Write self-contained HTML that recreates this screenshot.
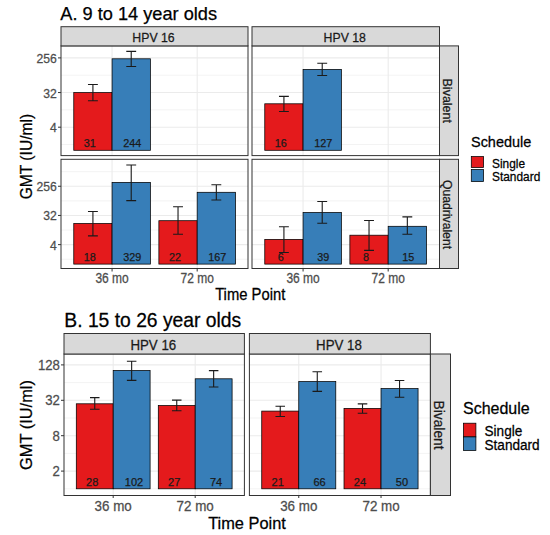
<!DOCTYPE html>
<html><head><meta charset="utf-8"><style>
html,body{margin:0;padding:0;background:#fff;width:550px;height:535px;overflow:hidden}
svg{display:block}
text{font-family:"Liberation Sans",sans-serif}
</style></head><body>
<svg width="550" height="535" viewBox="0 0 550 535">
<rect width="550" height="535" fill="#fff"/>
<text transform="translate(60.30,19.60)" font-size="18.2" fill="#000" stroke="#000" stroke-width="0.25">A. 9 to 14 year olds</text>
<rect x="61" y="45.9" width="187" height="109.69999999999999" fill="#fff"/>
<line x1="61" x2="248" y1="144.53" y2="144.53" stroke="#EBEBEB" stroke-width="0.6"/>
<line x1="61" x2="248" y1="109.88" y2="109.88" stroke="#EBEBEB" stroke-width="0.6"/>
<line x1="61" x2="248" y1="75.23" y2="75.23" stroke="#EBEBEB" stroke-width="0.6"/>
<line x1="61" x2="248" y1="127.20" y2="127.20" stroke="#EBEBEB" stroke-width="1.1"/>
<line x1="61" x2="248" y1="92.55" y2="92.55" stroke="#EBEBEB" stroke-width="1.1"/>
<line x1="61" x2="248" y1="57.90" y2="57.90" stroke="#EBEBEB" stroke-width="1.1"/>
<line x1="112.07" x2="112.07" y1="45.9" y2="155.6" stroke="#EBEBEB" stroke-width="1.1"/>
<line x1="197.18" x2="197.18" y1="45.9" y2="155.6" stroke="#EBEBEB" stroke-width="1.1"/>
<rect x="61" y="159.3" width="187" height="109.19999999999999" fill="#fff"/>
<line x1="61" x2="248" y1="259.24" y2="259.24" stroke="#EBEBEB" stroke-width="0.6"/>
<line x1="61" x2="248" y1="230.05" y2="230.05" stroke="#EBEBEB" stroke-width="0.6"/>
<line x1="61" x2="248" y1="200.86" y2="200.86" stroke="#EBEBEB" stroke-width="0.6"/>
<line x1="61" x2="248" y1="171.67" y2="171.67" stroke="#EBEBEB" stroke-width="0.6"/>
<line x1="61" x2="248" y1="244.64" y2="244.64" stroke="#EBEBEB" stroke-width="1.1"/>
<line x1="61" x2="248" y1="215.45" y2="215.45" stroke="#EBEBEB" stroke-width="1.1"/>
<line x1="61" x2="248" y1="186.26" y2="186.26" stroke="#EBEBEB" stroke-width="1.1"/>
<line x1="112.07" x2="112.07" y1="159.3" y2="268.5" stroke="#EBEBEB" stroke-width="1.1"/>
<line x1="197.18" x2="197.18" y1="159.3" y2="268.5" stroke="#EBEBEB" stroke-width="1.1"/>
<rect x="252" y="45.9" width="187.5" height="109.69999999999999" fill="#fff"/>
<line x1="252" x2="439.5" y1="144.53" y2="144.53" stroke="#EBEBEB" stroke-width="0.6"/>
<line x1="252" x2="439.5" y1="109.88" y2="109.88" stroke="#EBEBEB" stroke-width="0.6"/>
<line x1="252" x2="439.5" y1="75.23" y2="75.23" stroke="#EBEBEB" stroke-width="0.6"/>
<line x1="252" x2="439.5" y1="127.20" y2="127.20" stroke="#EBEBEB" stroke-width="1.1"/>
<line x1="252" x2="439.5" y1="92.55" y2="92.55" stroke="#EBEBEB" stroke-width="1.1"/>
<line x1="252" x2="439.5" y1="57.90" y2="57.90" stroke="#EBEBEB" stroke-width="1.1"/>
<line x1="303.07" x2="303.07" y1="45.9" y2="155.6" stroke="#EBEBEB" stroke-width="1.1"/>
<line x1="388.18" x2="388.18" y1="45.9" y2="155.6" stroke="#EBEBEB" stroke-width="1.1"/>
<rect x="252" y="159.3" width="187.5" height="109.19999999999999" fill="#fff"/>
<line x1="252" x2="439.5" y1="259.24" y2="259.24" stroke="#EBEBEB" stroke-width="0.6"/>
<line x1="252" x2="439.5" y1="230.05" y2="230.05" stroke="#EBEBEB" stroke-width="0.6"/>
<line x1="252" x2="439.5" y1="200.86" y2="200.86" stroke="#EBEBEB" stroke-width="0.6"/>
<line x1="252" x2="439.5" y1="171.67" y2="171.67" stroke="#EBEBEB" stroke-width="0.6"/>
<line x1="252" x2="439.5" y1="244.64" y2="244.64" stroke="#EBEBEB" stroke-width="1.1"/>
<line x1="252" x2="439.5" y1="215.45" y2="215.45" stroke="#EBEBEB" stroke-width="1.1"/>
<line x1="252" x2="439.5" y1="186.26" y2="186.26" stroke="#EBEBEB" stroke-width="1.1"/>
<line x1="303.07" x2="303.07" y1="159.3" y2="268.5" stroke="#EBEBEB" stroke-width="1.1"/>
<line x1="388.18" x2="388.18" y1="159.3" y2="268.5" stroke="#EBEBEB" stroke-width="1.1"/>
<rect x="73.77" y="92.60" width="38.30" height="57.70" fill="#E41A1C" stroke="#000" stroke-width="0.75"/>
<rect x="112.07" y="58.80" width="38.30" height="91.50" fill="#377EB8" stroke="#000" stroke-width="0.75"/>
<path d="M87.98 84.50H97.85M92.92 84.50V100.70M87.98 100.70H97.85" stroke="#1A1A1A" stroke-width="1.1" fill="none"/>
<path d="M126.28 51.40H136.16M131.22 51.40V66.50M126.28 66.50H136.16" stroke="#1A1A1A" stroke-width="1.1" fill="none"/>
<text transform="translate(89.79,147.20)" font-size="10.8" fill="#1A1A1A" stroke="#1A1A1A" stroke-width="0.25" text-anchor="middle">31</text>
<text transform="translate(132.15,147.20)" font-size="10.8" fill="#1A1A1A" stroke="#1A1A1A" stroke-width="0.25" text-anchor="middle">244</text>
<rect x="264.77" y="103.80" width="38.30" height="46.50" fill="#E41A1C" stroke="#000" stroke-width="0.75"/>
<rect x="303.07" y="69.40" width="38.30" height="80.90" fill="#377EB8" stroke="#000" stroke-width="0.75"/>
<path d="M278.98 96.40H288.85M283.92 96.40V111.50M278.98 111.50H288.85" stroke="#1A1A1A" stroke-width="1.1" fill="none"/>
<path d="M317.28 63.20H327.16M322.22 63.20V75.50M317.28 75.50H327.16" stroke="#1A1A1A" stroke-width="1.1" fill="none"/>
<text transform="translate(280.79,147.20)" font-size="10.8" fill="#1A1A1A" stroke="#1A1A1A" stroke-width="0.25" text-anchor="middle">16</text>
<text transform="translate(323.15,147.20)" font-size="10.8" fill="#1A1A1A" stroke="#1A1A1A" stroke-width="0.25" text-anchor="middle">127</text>
<rect x="73.77" y="223.50" width="38.30" height="40.60" fill="#E41A1C" stroke="#000" stroke-width="0.75"/>
<rect x="112.07" y="182.40" width="38.30" height="81.70" fill="#377EB8" stroke="#000" stroke-width="0.75"/>
<path d="M87.98 211.50H97.85M92.92 211.50V235.90M87.98 235.90H97.85" stroke="#1A1A1A" stroke-width="1.1" fill="none"/>
<path d="M126.28 165.00H136.16M131.22 165.00V200.60M126.28 200.60H136.16" stroke="#1A1A1A" stroke-width="1.1" fill="none"/>
<text transform="translate(89.79,260.80)" font-size="10.8" fill="#1A1A1A" stroke="#1A1A1A" stroke-width="0.25" text-anchor="middle">18</text>
<text transform="translate(132.15,260.80)" font-size="10.8" fill="#1A1A1A" stroke="#1A1A1A" stroke-width="0.25" text-anchor="middle">329</text>
<rect x="158.88" y="220.70" width="38.30" height="43.40" fill="#E41A1C" stroke="#000" stroke-width="0.75"/>
<rect x="197.18" y="192.30" width="38.30" height="71.80" fill="#377EB8" stroke="#000" stroke-width="0.75"/>
<path d="M173.09 206.80H182.97M178.03 206.80V234.30M173.09 234.30H182.97" stroke="#1A1A1A" stroke-width="1.1" fill="none"/>
<path d="M211.40 184.70H221.27M216.33 184.70V200.00M211.40 200.00H221.27" stroke="#1A1A1A" stroke-width="1.1" fill="none"/>
<text transform="translate(174.90,260.80)" font-size="10.8" fill="#1A1A1A" stroke="#1A1A1A" stroke-width="0.25" text-anchor="middle">22</text>
<text transform="translate(217.26,260.80)" font-size="10.8" fill="#1A1A1A" stroke="#1A1A1A" stroke-width="0.25" text-anchor="middle">167</text>
<rect x="264.77" y="239.40" width="38.30" height="24.70" fill="#E41A1C" stroke="#000" stroke-width="0.75"/>
<rect x="303.07" y="212.50" width="38.30" height="51.60" fill="#377EB8" stroke="#000" stroke-width="0.75"/>
<path d="M278.98 226.80H288.85M283.92 226.80V252.50M278.98 252.50H288.85" stroke="#1A1A1A" stroke-width="1.1" fill="none"/>
<path d="M317.28 201.50H327.16M322.22 201.50V223.20M317.28 223.20H327.16" stroke="#1A1A1A" stroke-width="1.1" fill="none"/>
<text transform="translate(280.79,260.80)" font-size="10.8" fill="#1A1A1A" stroke="#1A1A1A" stroke-width="0.25" text-anchor="middle">6</text>
<text transform="translate(323.15,260.80)" font-size="10.8" fill="#1A1A1A" stroke="#1A1A1A" stroke-width="0.25" text-anchor="middle">39</text>
<rect x="349.88" y="235.20" width="38.30" height="28.90" fill="#E41A1C" stroke="#000" stroke-width="0.75"/>
<rect x="388.18" y="226.30" width="38.30" height="37.80" fill="#377EB8" stroke="#000" stroke-width="0.75"/>
<path d="M364.09 220.50H373.97M369.03 220.50V250.40M364.09 250.40H373.97" stroke="#1A1A1A" stroke-width="1.1" fill="none"/>
<path d="M402.40 216.90H412.27M407.33 216.90V234.20M402.40 234.20H412.27" stroke="#1A1A1A" stroke-width="1.1" fill="none"/>
<text transform="translate(365.90,260.80)" font-size="10.8" fill="#1A1A1A" stroke="#1A1A1A" stroke-width="0.25" text-anchor="middle">8</text>
<text transform="translate(408.26,260.80)" font-size="10.8" fill="#1A1A1A" stroke="#1A1A1A" stroke-width="0.25" text-anchor="middle">15</text>
<rect x="61" y="45.9" width="187" height="109.69999999999999" fill="none" stroke="#333333" stroke-width="1.0"/>
<rect x="61" y="159.3" width="187" height="109.19999999999999" fill="none" stroke="#333333" stroke-width="1.0"/>
<rect x="61" y="26.7" width="187" height="19.2" fill="#D9D9D9" stroke="#333333" stroke-width="1.0"/>
<text transform="translate(153.50,41.60) scale(1,1.05)" font-size="12.3" fill="#1A1A1A" stroke="#1A1A1A" stroke-width="0.25" text-anchor="middle">HPV 16</text>
<rect x="252" y="45.9" width="187.5" height="109.69999999999999" fill="none" stroke="#333333" stroke-width="1.0"/>
<rect x="252" y="159.3" width="187.5" height="109.19999999999999" fill="none" stroke="#333333" stroke-width="1.0"/>
<rect x="252" y="26.7" width="187.5" height="19.2" fill="#D9D9D9" stroke="#333333" stroke-width="1.0"/>
<text transform="translate(344.75,41.60) scale(1,1.05)" font-size="12.3" fill="#1A1A1A" stroke="#1A1A1A" stroke-width="0.25" text-anchor="middle">HPV 18</text>
<rect x="439.5" y="45.9" width="19.0" height="109.69999999999999" fill="#D9D9D9" stroke="#333333" stroke-width="1.0"/>
<rect x="439.5" y="159.3" width="19.0" height="109.19999999999999" fill="#D9D9D9" stroke="#333333" stroke-width="1.0"/>
<text transform="translate(443.20,100.75) rotate(90) scale(1,1.05)" font-size="12.5" fill="#1A1A1A" stroke="#1A1A1A" stroke-width="0.25" text-anchor="middle">Bivalent</text>
<text transform="translate(443.20,214.50) rotate(90) scale(1,1.05)" font-size="12.2" fill="#1A1A1A" stroke="#1A1A1A" stroke-width="0.25" text-anchor="middle">Quadrivalent</text>
<line x1="58" x2="61" y1="127.20" y2="127.20" stroke="#333333" stroke-width="1.0"/>
<text transform="translate(56.80,132.20) scale(1,1.1)" font-size="12.2" fill="#4D4D4D" stroke="#4D4D4D" stroke-width="0.25" text-anchor="end">4</text>
<line x1="58" x2="61" y1="92.55" y2="92.55" stroke="#333333" stroke-width="1.0"/>
<text transform="translate(56.80,97.55) scale(1,1.1)" font-size="12.2" fill="#4D4D4D" stroke="#4D4D4D" stroke-width="0.25" text-anchor="end">32</text>
<line x1="58" x2="61" y1="57.90" y2="57.90" stroke="#333333" stroke-width="1.0"/>
<text transform="translate(56.80,62.90) scale(1,1.1)" font-size="12.2" fill="#4D4D4D" stroke="#4D4D4D" stroke-width="0.25" text-anchor="end">256</text>
<line x1="58" x2="61" y1="244.64" y2="244.64" stroke="#333333" stroke-width="1.0"/>
<text transform="translate(56.80,249.64) scale(1,1.1)" font-size="12.2" fill="#4D4D4D" stroke="#4D4D4D" stroke-width="0.25" text-anchor="end">4</text>
<line x1="58" x2="61" y1="215.45" y2="215.45" stroke="#333333" stroke-width="1.0"/>
<text transform="translate(56.80,220.45) scale(1,1.1)" font-size="12.2" fill="#4D4D4D" stroke="#4D4D4D" stroke-width="0.25" text-anchor="end">32</text>
<line x1="58" x2="61" y1="186.26" y2="186.26" stroke="#333333" stroke-width="1.0"/>
<text transform="translate(56.80,191.26) scale(1,1.1)" font-size="12.2" fill="#4D4D4D" stroke="#4D4D4D" stroke-width="0.25" text-anchor="end">256</text>
<line x1="112.07" x2="112.07" y1="268.5" y2="271.5" stroke="#333333" stroke-width="1.0"/>
<text transform="translate(112.07,282.90) scale(1,1.15)" font-size="12.0" fill="#4D4D4D" stroke="#4D4D4D" stroke-width="0.25" text-anchor="middle">36 mo</text>
<line x1="197.18" x2="197.18" y1="268.5" y2="271.5" stroke="#333333" stroke-width="1.0"/>
<text transform="translate(197.18,282.90) scale(1,1.15)" font-size="12.0" fill="#4D4D4D" stroke="#4D4D4D" stroke-width="0.25" text-anchor="middle">72 mo</text>
<line x1="303.07" x2="303.07" y1="268.5" y2="271.5" stroke="#333333" stroke-width="1.0"/>
<text transform="translate(303.07,282.90) scale(1,1.15)" font-size="12.0" fill="#4D4D4D" stroke="#4D4D4D" stroke-width="0.25" text-anchor="middle">36 mo</text>
<line x1="388.18" x2="388.18" y1="268.5" y2="271.5" stroke="#333333" stroke-width="1.0"/>
<text transform="translate(388.18,282.90) scale(1,1.15)" font-size="12.0" fill="#4D4D4D" stroke="#4D4D4D" stroke-width="0.25" text-anchor="middle">72 mo</text>
<text transform="translate(250.20,299.60) scale(1,1.1)" font-size="14.8" fill="#000" stroke="#000" stroke-width="0.25" text-anchor="middle">Time Point</text>
<text transform="translate(31.60,156.60) rotate(-90)" font-size="15.6" fill="#000" stroke="#000" stroke-width="0.25" text-anchor="middle">GMT (IU/ml)</text>
<text transform="translate(471.00,147.20) scale(1,1.07)" font-size="14.45" fill="#000" stroke="#000" stroke-width="0.25">Schedule</text>
<rect x="471.3" y="156.5" width="12.3" height="11.1" fill="#E41A1C" stroke="#000" stroke-width="0.75"/>
<rect x="471.3" y="169.4" width="12.3" height="12.2" fill="#377EB8" stroke="#000" stroke-width="0.75"/>
<text transform="translate(492.00,168.00) scale(1,1.12)" font-size="11.9" fill="#000" stroke="#000" stroke-width="0.25">Single</text>
<text transform="translate(492.00,181.20) scale(1,1.12)" font-size="11.9" fill="#000" stroke="#000" stroke-width="0.25">Standard</text>
<text transform="translate(64.30,326.50) scale(1,1.03)" font-size="19.3" fill="#000" stroke="#000" stroke-width="0.25">B. 15 to 26 year olds</text>
<rect x="64" y="354" width="180.4" height="141.5" fill="#fff"/>
<line x1="64" x2="244.4" y1="488.80" y2="488.80" stroke="#EBEBEB" stroke-width="0.6"/>
<line x1="64" x2="244.4" y1="453.40" y2="453.40" stroke="#EBEBEB" stroke-width="0.6"/>
<line x1="64" x2="244.4" y1="418.00" y2="418.00" stroke="#EBEBEB" stroke-width="0.6"/>
<line x1="64" x2="244.4" y1="382.60" y2="382.60" stroke="#EBEBEB" stroke-width="0.6"/>
<line x1="64" x2="244.4" y1="471.10" y2="471.10" stroke="#EBEBEB" stroke-width="1.1"/>
<line x1="64" x2="244.4" y1="435.70" y2="435.70" stroke="#EBEBEB" stroke-width="1.1"/>
<line x1="64" x2="244.4" y1="400.30" y2="400.30" stroke="#EBEBEB" stroke-width="1.1"/>
<line x1="64" x2="244.4" y1="364.90" y2="364.90" stroke="#EBEBEB" stroke-width="1.1"/>
<line x1="113.20" x2="113.20" y1="354" y2="495.5" stroke="#EBEBEB" stroke-width="1.1"/>
<line x1="195.20" x2="195.20" y1="354" y2="495.5" stroke="#EBEBEB" stroke-width="1.1"/>
<rect x="249.4" y="354" width="180.99999999999997" height="141.5" fill="#fff"/>
<line x1="249.4" x2="430.4" y1="488.80" y2="488.80" stroke="#EBEBEB" stroke-width="0.6"/>
<line x1="249.4" x2="430.4" y1="453.40" y2="453.40" stroke="#EBEBEB" stroke-width="0.6"/>
<line x1="249.4" x2="430.4" y1="418.00" y2="418.00" stroke="#EBEBEB" stroke-width="0.6"/>
<line x1="249.4" x2="430.4" y1="382.60" y2="382.60" stroke="#EBEBEB" stroke-width="0.6"/>
<line x1="249.4" x2="430.4" y1="471.10" y2="471.10" stroke="#EBEBEB" stroke-width="1.1"/>
<line x1="249.4" x2="430.4" y1="435.70" y2="435.70" stroke="#EBEBEB" stroke-width="1.1"/>
<line x1="249.4" x2="430.4" y1="400.30" y2="400.30" stroke="#EBEBEB" stroke-width="1.1"/>
<line x1="249.4" x2="430.4" y1="364.90" y2="364.90" stroke="#EBEBEB" stroke-width="1.1"/>
<line x1="298.76" x2="298.76" y1="354" y2="495.5" stroke="#EBEBEB" stroke-width="1.1"/>
<line x1="381.04" x2="381.04" y1="354" y2="495.5" stroke="#EBEBEB" stroke-width="1.1"/>
<rect x="76.30" y="403.80" width="36.90" height="85.00" fill="#E41A1C" stroke="#000" stroke-width="0.75"/>
<rect x="113.20" y="370.50" width="36.90" height="118.30" fill="#377EB8" stroke="#000" stroke-width="0.75"/>
<path d="M89.99 397.60H99.51M94.75 397.60V409.30M89.99 409.30H99.51" stroke="#1A1A1A" stroke-width="1.1" fill="none"/>
<path d="M126.89 361.20H136.41M131.65 361.20V380.40M126.89 380.40H136.41" stroke="#1A1A1A" stroke-width="1.1" fill="none"/>
<text transform="translate(92.20,486.20)" font-size="11.0" fill="#1A1A1A" stroke="#1A1A1A" stroke-width="0.25" text-anchor="middle">28</text>
<text transform="translate(134.00,486.20)" font-size="11.0" fill="#1A1A1A" stroke="#1A1A1A" stroke-width="0.25" text-anchor="middle">102</text>
<rect x="158.30" y="405.50" width="36.90" height="83.30" fill="#E41A1C" stroke="#000" stroke-width="0.75"/>
<rect x="195.20" y="378.80" width="36.90" height="110.00" fill="#377EB8" stroke="#000" stroke-width="0.75"/>
<path d="M171.99 400.10H181.51M176.75 400.10V410.70M171.99 410.70H181.51" stroke="#1A1A1A" stroke-width="1.1" fill="none"/>
<path d="M208.89 370.60H218.41M213.65 370.60V387.00M208.89 387.00H218.41" stroke="#1A1A1A" stroke-width="1.1" fill="none"/>
<text transform="translate(174.20,486.20)" font-size="11.0" fill="#1A1A1A" stroke="#1A1A1A" stroke-width="0.25" text-anchor="middle">27</text>
<text transform="translate(216.00,486.20)" font-size="11.0" fill="#1A1A1A" stroke="#1A1A1A" stroke-width="0.25" text-anchor="middle">74</text>
<rect x="261.74" y="411.10" width="37.02" height="77.70" fill="#E41A1C" stroke="#000" stroke-width="0.75"/>
<rect x="298.76" y="381.60" width="37.02" height="107.20" fill="#377EB8" stroke="#000" stroke-width="0.75"/>
<path d="M275.48 406.20H285.02M280.25 406.20V416.50M275.48 416.50H285.02" stroke="#1A1A1A" stroke-width="1.1" fill="none"/>
<path d="M312.50 371.80H322.05M317.27 371.80V391.40M312.50 391.40H322.05" stroke="#1A1A1A" stroke-width="1.1" fill="none"/>
<text transform="translate(277.70,486.20)" font-size="11.0" fill="#1A1A1A" stroke="#1A1A1A" stroke-width="0.25" text-anchor="middle">21</text>
<text transform="translate(319.63,486.20)" font-size="11.0" fill="#1A1A1A" stroke="#1A1A1A" stroke-width="0.25" text-anchor="middle">66</text>
<rect x="344.01" y="408.40" width="37.02" height="80.40" fill="#E41A1C" stroke="#000" stroke-width="0.75"/>
<rect x="381.04" y="388.60" width="37.02" height="100.20" fill="#377EB8" stroke="#000" stroke-width="0.75"/>
<path d="M357.75 403.90H367.30M362.52 403.90V413.20M357.75 413.20H367.30" stroke="#1A1A1A" stroke-width="1.1" fill="none"/>
<path d="M394.78 380.50H404.32M399.55 380.50V397.20M394.78 397.20H404.32" stroke="#1A1A1A" stroke-width="1.1" fill="none"/>
<text transform="translate(359.97,486.20)" font-size="11.0" fill="#1A1A1A" stroke="#1A1A1A" stroke-width="0.25" text-anchor="middle">24</text>
<text transform="translate(401.90,486.20)" font-size="11.0" fill="#1A1A1A" stroke="#1A1A1A" stroke-width="0.25" text-anchor="middle">50</text>
<rect x="64" y="354" width="180.4" height="141.5" fill="none" stroke="#333333" stroke-width="1.0"/>
<rect x="64" y="333.5" width="180.4" height="20.5" fill="#D9D9D9" stroke="#333333" stroke-width="1.0"/>
<text transform="translate(153.30,350.00) scale(1,1.05)" font-size="13.3" fill="#1A1A1A" stroke="#1A1A1A" stroke-width="0.25" text-anchor="middle">HPV 16</text>
<rect x="249.4" y="354" width="180.99999999999997" height="141.5" fill="none" stroke="#333333" stroke-width="1.0"/>
<rect x="249.4" y="333.5" width="180.99999999999997" height="20.5" fill="#D9D9D9" stroke="#333333" stroke-width="1.0"/>
<text transform="translate(339.00,350.00) scale(1,1.05)" font-size="13.3" fill="#1A1A1A" stroke="#1A1A1A" stroke-width="0.25" text-anchor="middle">HPV 18</text>
<rect x="430.4" y="354" width="20.100000000000023" height="141.5" fill="#D9D9D9" stroke="#333333" stroke-width="1.0"/>
<text transform="translate(433.60,425.05) rotate(90)" font-size="13.8" fill="#1A1A1A" stroke="#1A1A1A" stroke-width="0.25" text-anchor="middle">Bivalent</text>
<line x1="61" x2="64" y1="471.10" y2="471.10" stroke="#333333" stroke-width="1.0"/>
<text transform="translate(59.90,476.00) scale(1,1.1)" font-size="13.2" fill="#4D4D4D" stroke="#4D4D4D" stroke-width="0.25" text-anchor="end">2</text>
<line x1="61" x2="64" y1="435.70" y2="435.70" stroke="#333333" stroke-width="1.0"/>
<text transform="translate(59.90,440.60) scale(1,1.1)" font-size="13.2" fill="#4D4D4D" stroke="#4D4D4D" stroke-width="0.25" text-anchor="end">8</text>
<line x1="61" x2="64" y1="400.30" y2="400.30" stroke="#333333" stroke-width="1.0"/>
<text transform="translate(59.90,405.20) scale(1,1.1)" font-size="13.2" fill="#4D4D4D" stroke="#4D4D4D" stroke-width="0.25" text-anchor="end">32</text>
<line x1="61" x2="64" y1="364.90" y2="364.90" stroke="#333333" stroke-width="1.0"/>
<text transform="translate(59.90,369.80) scale(1,1.1)" font-size="13.2" fill="#4D4D4D" stroke="#4D4D4D" stroke-width="0.25" text-anchor="end">128</text>
<line x1="113.20" x2="113.20" y1="495.5" y2="498.0" stroke="#333333" stroke-width="1.0"/>
<text transform="translate(113.20,510.60) scale(1,1.1)" font-size="13.4" fill="#4D4D4D" stroke="#4D4D4D" stroke-width="0.25" text-anchor="middle">36 mo</text>
<line x1="195.20" x2="195.20" y1="495.5" y2="498.0" stroke="#333333" stroke-width="1.0"/>
<text transform="translate(195.20,510.60) scale(1,1.1)" font-size="13.4" fill="#4D4D4D" stroke="#4D4D4D" stroke-width="0.25" text-anchor="middle">72 mo</text>
<line x1="298.76" x2="298.76" y1="495.5" y2="498.0" stroke="#333333" stroke-width="1.0"/>
<text transform="translate(298.76,510.60) scale(1,1.1)" font-size="13.4" fill="#4D4D4D" stroke="#4D4D4D" stroke-width="0.25" text-anchor="middle">36 mo</text>
<line x1="381.04" x2="381.04" y1="495.5" y2="498.0" stroke="#333333" stroke-width="1.0"/>
<text transform="translate(381.04,510.60) scale(1,1.1)" font-size="13.4" fill="#4D4D4D" stroke="#4D4D4D" stroke-width="0.25" text-anchor="middle">72 mo</text>
<text transform="translate(247.00,528.60) scale(1,1.05)" font-size="16.4" fill="#000" stroke="#000" stroke-width="0.25" text-anchor="middle">Time Point</text>
<text transform="translate(32.20,425.00) rotate(-90)" font-size="16.4" fill="#000" stroke="#000" stroke-width="0.25" text-anchor="middle">GMT (IU/ml)</text>
<text transform="translate(463.00,413.90) scale(1,1.08)" font-size="16.0" fill="#000" stroke="#000" stroke-width="0.25">Schedule</text>
<rect x="463.4" y="423.2" width="12.5" height="13.7" fill="#E41A1C" stroke="#000" stroke-width="0.75"/>
<rect x="463.4" y="436.9" width="12.5" height="13.6" fill="#377EB8" stroke="#000" stroke-width="0.75"/>
<text transform="translate(484.50,436.00) scale(1,1.1)" font-size="13.6" fill="#000" stroke="#000" stroke-width="0.25">Single</text>
<text transform="translate(484.50,449.60) scale(1,1.1)" font-size="13.6" fill="#000" stroke="#000" stroke-width="0.25">Standard</text>
</svg></body></html>
